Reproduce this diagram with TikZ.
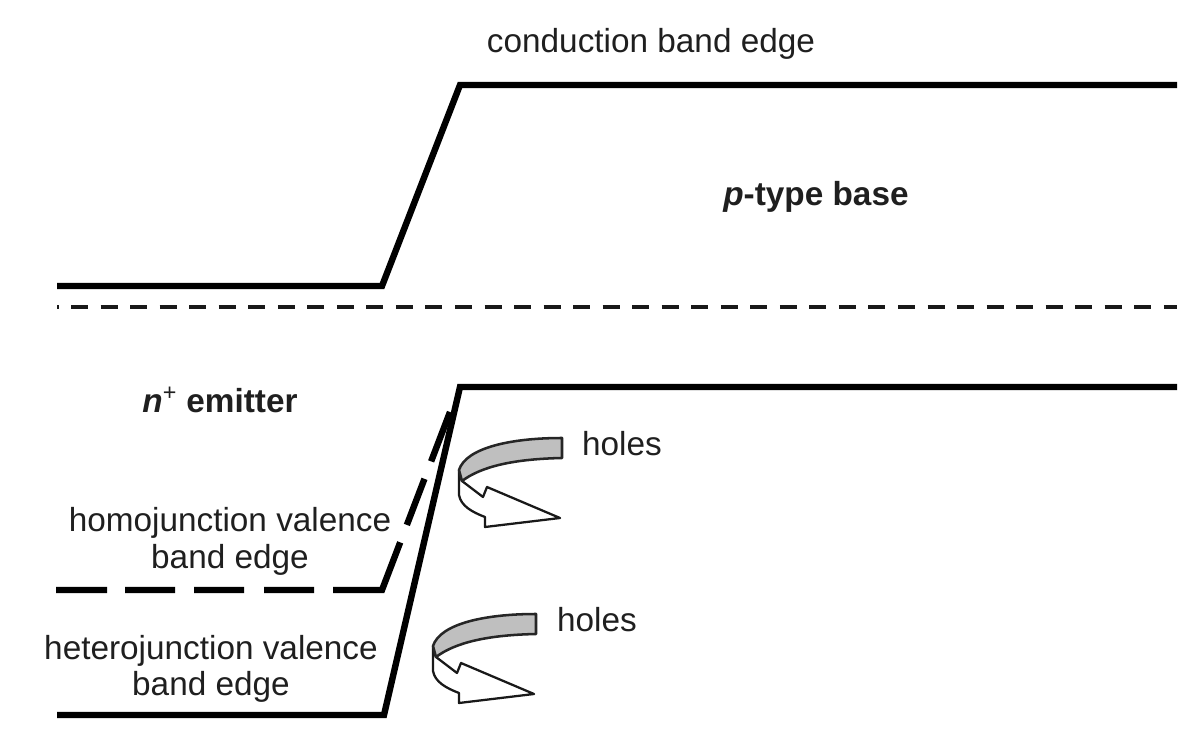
\documentclass[tikz,border=0pt]{standalone}
\usepackage{fontspec}
\setmainfont{Liberation Sans}
\tikzset{
  band/.style={line width=4.8pt,line join=miter,draw=black},
  lev/.style={line width=2.8pt,dash pattern=on 12.75pt off 9.4pt,dash phase=11.6pt,draw=black!90},
  homo/.style={band,dash pattern=on 38.25pt off 13.5pt on 37.5pt off 14.25pt on 37.5pt off 15pt on 37.5pt off 14.25pt on 75pt off 14pt on 37pt off 14pt on 60pt off 200pt},
  lab/.style={font=\fontsize{25}{27.4}\selectfont,text=black!88,align=center,inner sep=0pt},
  blab/.style={lab,font=\fontsize{25}{27.4}\selectfont\bfseries},
  arrw/.style={draw=black!90,line width=1.7pt,line join=round,fill=white},
  arrg/.style={draw=black!85,line width=1.9pt,line join=round,fill=black!25}
}
\begin{document}
\begin{tikzpicture}[x=0.75pt,y=-0.75pt]
\useasboundingbox (0,0) rectangle (1197,746);
\coordinate (c0) at (57,286); \coordinate (c1) at (382,286); \coordinate (c2) at (460,85); \coordinate (c3) at (1177,85);
\coordinate (f0) at (57,307); \coordinate (f1) at (1177,307);
\coordinate (v2) at (460,387); \coordinate (v3) at (1177,387);
\coordinate (h0) at (56,590); \coordinate (h1) at (382,590); \coordinate (h2) at (450,412);
\coordinate (e0) at (57,715); \coordinate (e1) at (384,715);
\draw[band] (c0) -- (c1) -- (c2) -- (c3);
\draw[lev] (f0) -- (f1);
\draw[homo] (h0) -- (h1) -- (h2);
\draw[band] (e0) -- (e1) -- (v2) -- (v3);
\node[lab] (t1) at (651,44) {conduction band edge};
\node[blab] (t2) at (816,197) {\textit{p}-type base};
\node[blab] (t3) at (220,400) {\textit{n}\textsuperscript{\normalfont +} emitter};
\node[lab] (t4) at (230,541.5) {homojunction valence\\band edge};
\node[lab] (t5) at (211,669) {heterojunction valence\\band edge};
\node[lab] (t6) at (622,444) {holes};
\node[lab] (t7) at (597,620) {holes};
\foreach \dx/\dy in {0/0,-26/176}{
\begin{scope}[shift={(\dx,\dy)}]
\draw[arrw] (459,470) -- (459,495) .. controls (461,506) and (472,512) .. (485,517) -- (485,527) -- (560,518) -- (487,487) -- (483,497) -- (462,481) -- cycle;
\draw[arrg] (562,438) -- (562,458) .. controls (515,459) and (482,466) .. (462,481) -- (459,470) .. controls (466,448) and (510,438) .. (562,438) -- cycle;
\end{scope}}
\end{tikzpicture}
\end{document}
